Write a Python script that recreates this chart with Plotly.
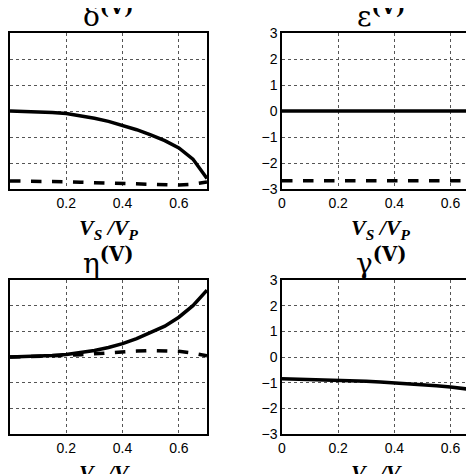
import plotly.graph_objects as go
from plotly.subplots import make_subplots

x = [0, 0.05, 0.1, 0.15, 0.2, 0.25, 0.3, 0.35, 0.4, 0.45, 0.5, 0.55, 0.6, 0.65, 0.7]
delta_solid = [0, -0.01, -0.03, -0.06, -0.1, -0.18, -0.28, -0.4, -0.55, -0.72, -0.92, -1.14, -1.42, -1.85, -2.6]
delta_dash = [-2.69, -2.69, -2.7, -2.71, -2.72, -2.74, -2.76, -2.78, -2.8, -2.82, -2.83, -2.84, -2.85, -2.82, -2.73]
eps_solid = [0] * 15
eps_dash = [-2.68] * 15
eta_solid = [0, 0.01, 0.03, 0.06, 0.1, 0.17, 0.25, 0.37, 0.52, 0.72, 0.95, 1.2, 1.55, 2.0, 2.6]
eta_dash = [0, 0.01, 0.02, 0.04, 0.06, 0.09, 0.13, 0.17, 0.2, 0.23, 0.25, 0.25, 0.22, 0.15, 0.05]
gam_solid = [-0.85, -0.86, -0.87, -0.88, -0.9, -0.92, -0.94, -0.97, -1.0, -1.04, -1.08, -1.12, -1.17, -1.23, -1.3]
titles = ["δ<sup><b>(V)</b></sup>", "ε<sup><b>(V)</b></sup>", "η<sup><b>(V)</b></sup>", "γ<sup><b>(V)</b></sup>"]
yticks = [-3, -2, -1, 0, 1, 2, 3]
xticks = [0, 0.2, 0.4, 0.6]

fig = make_subplots(rows=2, cols=2)
panels = [(1, 1, delta_solid, delta_dash), (1, 2, eps_solid, eps_dash),
          (2, 1, eta_solid, eta_dash), (2, 2, gam_solid, None)]
for r, c, s, d in panels:
    fig.add_trace(go.Scatter(x=x, y=s, mode="lines", line=dict(color="black", width=3.5)), row=r, col=c)
    if d is not None:
        fig.add_trace(go.Scatter(x=x, y=d, mode="lines", line=dict(color="black", width=3.5, dash="dash")), row=r, col=c)

W = 474
o = 8
xd = [[(10 - o) / W, (207 - o) / W], [(282 - o) / W, 1.0]]
yd = [[1 - (189 - o) / W, 1 - (33 - o) / W], [1 - (434 - o) / W, 1 - (280 - o) / W]]
xr = [[0, 0.7], [0, 0.712]]
ax = dict(showline=True, linecolor="black", linewidth=1.5, mirror=True, showgrid=True,
          gridcolor="#555", griddash="dot", gridwidth=1, zeroline=False, automargin=False,
          ticks="", tickfont=dict(family="Arial", size=14, color="black"))
for r in (1, 2):
    for c in (1, 2):
        fig.update_xaxes(domain=xd[c - 1], range=xr[c - 1], tickvals=xticks, row=r, col=c, **ax)
        fig.update_yaxes(domain=yd[r - 1], range=[-3, 3], tickvals=yticks, row=r, col=c, **ax)

ann = []
pw = xd[0][1] - xd[0][0]
for i, t in enumerate(titles):
    r, c = divmod(i, 2)
    cx = xd[c][0] + pw / 2
    ann.append(dict(text=t, x=cx, y=yd[r][1] - 0.004, xref="paper", yref="paper", xanchor="center",
                    yanchor="bottom", showarrow=False, font=dict(family="DejaVu Serif", size=28, color="black")))
    ann.append(dict(text="<b><i>V<sub>S</sub> /V<sub>P</sub></i></b>", x=cx, y=yd[r][0] - 0.05, xref="paper",
                    yref="paper", xanchor="center", yanchor="top", showarrow=False,
                    font=dict(family="Liberation Serif", size=22, color="black")))
fig.update_layout(width=474, height=474, margin=dict(l=0, r=0, t=0, b=0), showlegend=False,
                  plot_bgcolor="white", paper_bgcolor="white", annotations=ann)
fig.write_html("out.html")
